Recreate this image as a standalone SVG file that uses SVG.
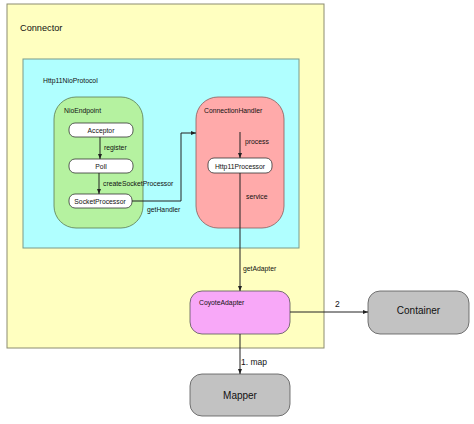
<svg xmlns="http://www.w3.org/2000/svg" width="474" height="424" viewBox="0 0 474 424">
<defs>
<style>
text{font-family:"Liberation Sans",Arial,sans-serif;fill:#111}
.s{font-size:6.8px}
.c{stroke:#222;stroke-width:1;fill:none}
.box{fill:#fff;stroke:#333;stroke-width:0.8}
</style>
<marker id="ah" viewBox="0 0 10 10" refX="10" refY="5" markerWidth="5.5" markerHeight="5.5" orient="auto"><path d="M0,1 L10,5 L0,9 z" fill="#222"/></marker>
</defs>
<rect width="474" height="424" fill="#fff"/>
<g id="connector">
<rect x="7" y="4" width="317" height="344" fill="#ffffc0" stroke="#8c8c70" stroke-width="1"/>
<text x="20" y="31" font-size="9.2">Connector</text>
</g>
<g id="http11nioprotocol">
<rect x="23" y="59" width="276" height="189" fill="#b0ffff" stroke="#7a9a8a" stroke-width="1"/>
<text x="43" y="83" class="s">Http11NioProtocol</text>
</g>
<g id="nioendpoint">
<rect x="54" y="97" width="89" height="131" rx="22" fill="#b5f2a0" stroke="#5a7a50" stroke-width="0.8"/>
<text x="64" y="113" class="s">NioEndpoint</text>
</g>
<g id="acceptor"><rect class="box" x="69" y="123" width="64" height="14" rx="6"/><text x="101" y="133" class="s" text-anchor="middle">Acceptor</text></g>
<g id="poll"><rect class="box" x="69" y="159" width="64" height="14" rx="6"/><text x="101" y="169" class="s" text-anchor="middle">Poll</text></g>
<g id="socketprocessor"><rect class="box" x="69" y="194" width="63" height="14" rx="6"/><text x="100" y="204" class="s" text-anchor="middle">SocketProcessor</text></g>
<g id="connectionhandler">
<rect x="196" y="97" width="88" height="131" rx="22" fill="#ffaaaa" stroke="#8a5a5a" stroke-width="0.8"/>
<text x="204" y="113" class="s">ConnectionHandler</text>
</g>
<g id="http11processor"><rect class="box" x="208" y="158" width="64" height="15" rx="6"/><text x="240" y="168.5" class="s" text-anchor="middle">Http11Processor</text></g>
<g id="coyoteadapter">
<rect x="190" y="291" width="100" height="43" rx="12" fill="#f8a8f8" stroke="#555" stroke-width="0.8"/>
<text x="199" y="305" class="s">CoyoteAdapter</text>
</g>
<g id="container">
<rect x="368" y="291" width="101" height="43" rx="12" fill="#c2c2c2" stroke="#555" stroke-width="0.8"/>
<text x="418.5" y="314" font-size="10" text-anchor="middle">Container</text>
</g>
<g id="mapper">
<rect x="190" y="374" width="100" height="42" rx="12" fill="#c2c2c2" stroke="#555" stroke-width="0.8"/>
<text x="240" y="399" font-size="10" text-anchor="middle">Mapper</text>
</g>
<g id="connectors">
<path class="c" d="M100,137 V159" marker-end="url(#ah)"/>
<path class="c" d="M99,173 V194" marker-end="url(#ah)"/>
<path class="c" d="M132,201 H181 V133 H196" marker-end="url(#ah)"/>
<path class="c" d="M240,132 V158" marker-end="url(#ah)"/>
<path class="c" d="M240,173 V291" marker-end="url(#ah)"/>
<path class="c" d="M290,312 H368" marker-end="url(#ah)"/>
<path class="c" d="M240,334 V374" marker-end="url(#ah)"/>
<text x="104" y="150" class="s">register</text>
<text x="103" y="186" class="s">createSocketProcessor</text>
<text x="147" y="212" class="s">getHandler</text>
<text x="245" y="144" class="s">process</text>
<text x="246" y="199" class="s">service</text>
<text x="243" y="271" class="s">getAdapter</text>
<text x="335" y="307" font-size="8.5">2</text>
<text x="241" y="365" font-size="8.5">1. map</text>
</g>
</svg>
